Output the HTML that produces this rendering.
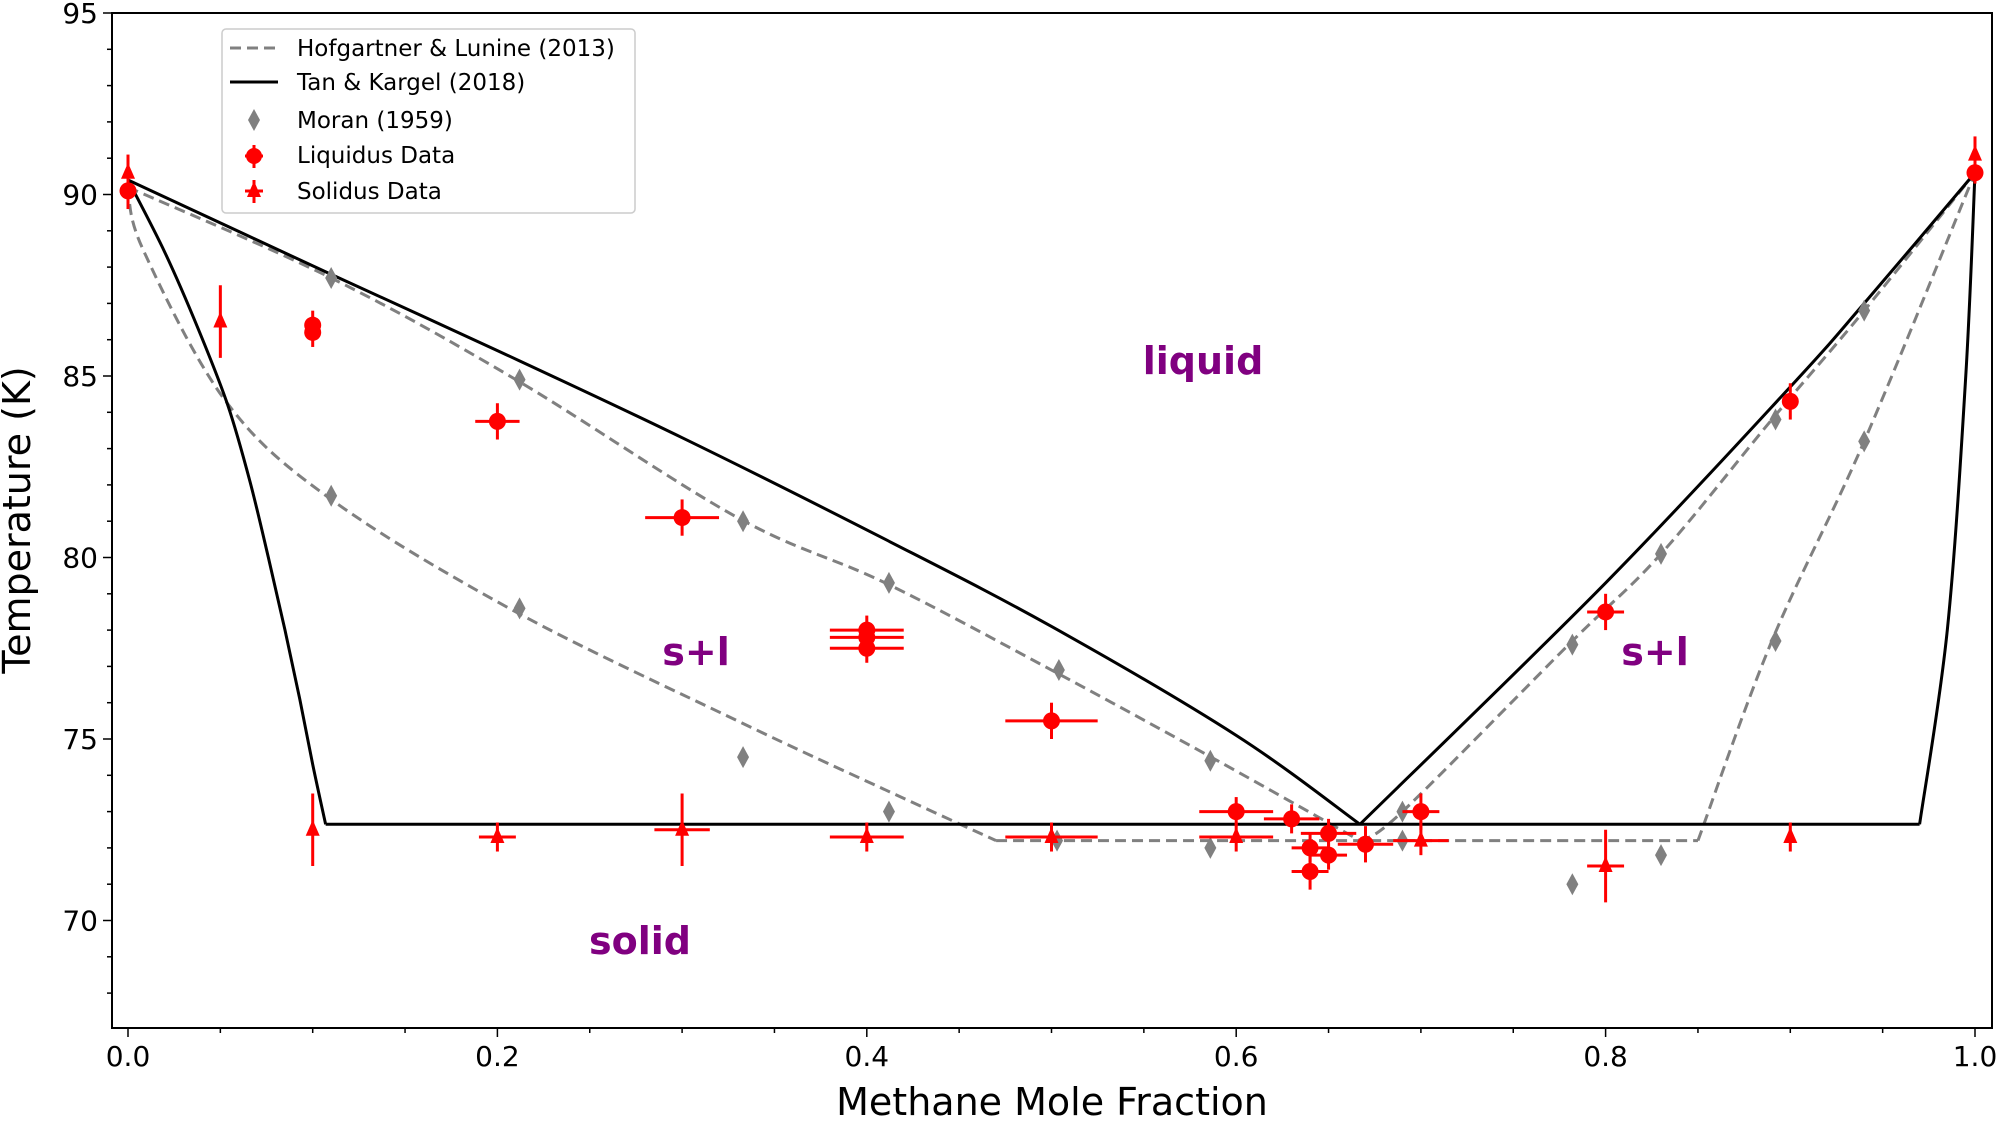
<!DOCTYPE html>
<html><head><meta charset="utf-8"><style>
html,body{margin:0;padding:0;background:#fff;}
svg{display:block;font-family:"DejaVu Sans","Liberation Sans",sans-serif;}
</style></head><body>
<svg id="chart" width="2000" height="1122" viewBox="0 0 2000 1122"></svg>
<script>
// ---- data ----
const tkLiqLeftX=[0,0.11,0.2,0.3,0.41,0.5,0.6,0.667];
const tkLiqLeftT=[90.4,87.8,85.7,83.3,80.5,78.1,75.1,72.65];
const tkSolLeftX=[0,0.02,0.038,0.054,0.066,0.076,0.085,0.093,0.1,0.107];
const tkSolLeftT=[90.4,88.4,86.3,84.2,82.1,80.0,78.0,76.1,74.3,72.65];
const tkLiqRightX=[0.667,0.8,0.9,0.94,1];
const tkLiqRightT=[72.65,79.3,84.7,87,90.6];
const tkSolRightX=[0.97,0.985,0.995,1];
const tkSolRightT=[72.65,78,85,90.6];
const tkEutX=[0.107,0.97];
const tkEutT=[72.65,72.65];
const hlUpperX=[0,0.11,0.21,0.33,0.41,0.5,0.59,0.667];
const hlUpperT=[90.2,87.7,84.9,81.1,79.3,76.9,74.4,72.2];
const hlLowerX=[0,0.008,0.053,0.11,0.21,0.33,0.41,0.47];
const hlLowerT=[90.2,88.5,84.3,81.6,78.5,75.5,73.6,72.2];
const hlFlatX=[0.47,0.85];
const hlFlatT=[72.2,72.2];
const hlRightLiqX=[0.667,0.69,0.78,0.83,0.89,0.94,1];
const hlRightLiqT=[72.2,73,77.6,80.1,83.8,86.8,90.6];
const hlRightSolX=[0.85,0.89,0.94,1];
const hlRightSolT=[72.2,77.7,83.2,90.6];
const moranX=[0.11,0.212,0.333,0.412,0.504,0.586,0.69,0.69,0.586,0.503,0.412,0.333,0.212,0.11,0.782,0.782,0.83,0.83,0.892,0.892,0.94,0.94];
const moranT=[87.7,84.9,81.0,79.3,76.9,74.4,73.0,72.2,72.0,72.2,73.0,74.5,78.6,81.7,71.0,77.6,80.1,71.8,83.8,77.7,86.8,83.2];
const liqX=[0,0.1,0.1,0.2,0.3,0.4,0.4,0.4,0.5,0.6,0.63,0.65,0.64,0.65,0.64,0.67,0.7,0.8,0.9,1];
const liqT=[90.1,86.4,86.2,83.75,81.1,78.0,77.8,77.5,75.5,73.0,72.8,72.4,72.0,71.8,71.35,72.1,73.0,78.5,84.3,90.6];
const liqXerr=[0,0,0,0.012,0.02,0.02,0.02,0.02,0.025,0.02,0.015,0.015,0.01,0.01,0.01,0.015,0.01,0.01,0,0];
const liqTerr=[0.5,0.4,0.4,0.5,0.5,0.4,0.4,0.4,0.5,0.4,0.4,0.4,0.4,0.4,0.5,0.5,0.5,0.5,0.5,0.3];
const solX=[0,0.05,0.1,0.2,0.3,0.4,0.5,0.6,0.7,0.8,0.9,1];
const solT=[90.6,86.5,72.5,72.3,72.5,72.3,72.3,72.3,72.2,71.5,72.3,91.1];
const solXerr=[0,0,0,0.01,0.015,0.02,0.025,0.02,0.015,0.01,0,0];
const solTerr=[0.5,1,1,0.4,1,0.4,0.4,0.4,0.4,1,0.4,0.5];
const xTicks=[0,0.2,0.4,0.6,0.8,1.0];
const xTickLabels=["0.0","0.2","0.4","0.6","0.8","1.0"];
const yTicks=[70,75,80,85,90,95];
const yTickLabels=["70","75","80","85","90","95"];
// ---- axes ----
const L=112,R=1992,T=13,B=1028;
const X=v=>128+v*1847;
const Y=t=>13+(95-t)*36.3;
const svg=document.getElementById('chart');
const NS='http://www.w3.org/2000/svg';
function mk(tag,attrs,parent){const e=document.createElementNS(NS,tag);for(const k in attrs)e.setAttribute(k,attrs[k]);(parent||svg).appendChild(e);return e;}
const plot=mk('g',{});


function smoothPath(xs,ts){
  const P=xs.map((v,i)=>[X(v),Y(ts[i])]);
  let d='M'+P[0][0]+','+P[0][1];
  for(let i=0;i<P.length-1;i++){
    const p0=P[Math.max(0,i-1)],p1=P[i],p2=P[i+1],p3=P[Math.min(P.length-1,i+2)];
    const c1=[p1[0]+(p2[0]-p0[0])/6,p1[1]+(p2[1]-p0[1])/6];
    const c2=[p2[0]-(p3[0]-p1[0])/6,p2[1]-(p3[1]-p1[1])/6];
    d+=` C${c1[0]},${c1[1]} ${c2[0]},${c2[1]} ${p2[0]},${p2[1]}`;
  }
  return d;
}
function line(xs,ts,style,name){
  const p=mk('path',Object.assign({d:smoothPath(xs,ts),fill:'none'},style),plot);
  
  
}
const dash={stroke:'#808080','stroke-width':3,'stroke-dasharray':'11,6'};
const solid={stroke:'#000','stroke-width':3};
line(hlUpperX,hlUpperT,dash,'hofgartner-liquidus-left');
line(hlLowerX,hlLowerT,dash,'hofgartner-solidus-left');
line(hlFlatX,hlFlatT,dash,'hofgartner-eutectic-line');
line(hlRightLiqX,hlRightLiqT,dash,'hofgartner-liquidus-right');
line(hlRightSolX,hlRightSolT,dash,'hofgartner-solidus-right');
line(tkLiqLeftX,tkLiqLeftT,solid,'tan-liquidus-left');
line(tkSolLeftX,tkSolLeftT,solid,'tan-solidus-left');
line(tkLiqRightX,tkLiqRightT,solid,'tan-liquidus-right');
line(tkSolRightX,tkSolRightT,solid,'tan-solidus-right');
line(tkEutX,tkEutT,solid,'tan-eutectic-line');
moranX.forEach((v,i)=>{const cx=X(v),cy=Y(moranT[i]);
  const d=mk('polygon',{points:`${cx},${cy-11} ${cx+6},${cy} ${cx},${cy+11} ${cx-6},${cy}`,fill:'#808080'},plot);
  
  
});
function errbars(x,t,xe,te,i){const g=mk('g',{stroke:'#f00','stroke-width':3},plot);
  
  
  if(xe[i]>0)mk('line',{x1:X(x[i]-xe[i]),x2:X(x[i]+xe[i]),y1:Y(t[i]),y2:Y(t[i])},g);
  if(te[i]>0)mk('line',{x1:X(x[i]),x2:X(x[i]),y1:Y(t[i]-te[i]),y2:Y(t[i]+te[i])},g);}
solX.forEach((v,i)=>{errbars(solX,solT,solXerr,solTerr,i);const cx=X(v),cy=Y(solT[i]);
  const m=mk('polygon',{points:`${cx},${cy-10} ${cx+7},${cy+6} ${cx-7},${cy+6}`,fill:'#f00'},plot);
  
  
});
liqX.forEach((v,i)=>{errbars(liqX,liqT,liqXerr,liqTerr,i);
  const c=mk('circle',{cx:X(v),cy:Y(liqT[i]),r:8.5,fill:'#f00'},plot);
  
  
});
// frame
const fr=mk('rect',{x:L,y:T,width:R-L,height:B-T,fill:'none',stroke:'#000','stroke-width':2});


// ticks
for(let i=0;i<=20;i++){const v=i*0.05;const major=i%4===0;mk('line',{x1:X(v),x2:X(v),y1:B,y2:B+(major?9:5),stroke:'#000','stroke-width':1.5});}
xTicks.forEach((v,i)=>{const t=mk('text',{x:X(v),y:B+38,'font-size':28,'text-anchor':'middle',fill:'#000'});t.textContent=xTickLabels[i];
  
  });
for(let k=68;k<=95;k++){const major=k%5===0;mk('line',{x1:L,x2:L-(major?9:5),y1:Y(k),y2:Y(k),stroke:'#000','stroke-width':1.5});}
yTicks.forEach((v,i)=>{const t=mk('text',{x:L-14,y:Y(v)+10,'font-size':28,'text-anchor':'end',fill:'#000'});t.textContent=yTickLabels[i];
  
  });
</script>
<svg width="2000" height="1122" style="position:absolute;left:0;top:0">
<text x="1052" y="1115" font-size="38" text-anchor="middle" font-family="DejaVu Sans,sans-serif">Methane Mole Fraction</text>
<text transform="translate(30,520) rotate(-90)" font-size="38" text-anchor="middle" font-family="DejaVu Sans,sans-serif">Temperature (K)</text>
<g font-family="DejaVu Sans,sans-serif" font-weight="bold" font-size="38" fill="#800080" text-anchor="middle">
<text x="1203" y="374">liquid</text>
<text x="696" y="665">s+l</text>
<text x="1655" y="665">s+l</text>
<text x="640" y="954">solid</text>
</g>
<g font-family="DejaVu Sans,sans-serif" font-size="23">
<rect x="222" y="29" width="413" height="184" rx="4" fill="#fff" fill-opacity="0.85" stroke="#ccc" stroke-width="1.5"/>
<line x1="230" x2="278" y1="48" y2="48" stroke="#808080" stroke-width="3" stroke-dasharray="11,6"/>
<text x="297" y="56">Hofgartner &amp; Lunine (2013)</text>
<line x1="230" x2="278" y1="82" y2="82" stroke="#000" stroke-width="3"/>
<text x="297" y="90">Tan &amp; Kargel (2018)</text>
<polygon points="254,109 260,120 254,131 248,120" fill="#808080"/>
<text x="297" y="128">Moran (1959)</text>
<line x1="254" x2="254" y1="145" y2="168" stroke="#f00" stroke-width="3"/><line x1="245" x2="263" y1="156" y2="156" stroke="#f00" stroke-width="3"/><circle cx="254" cy="156" r="8" fill="#f00"/>
<text x="297" y="163">Liquidus Data</text>
<line x1="254" x2="254" y1="180" y2="203" stroke="#f00" stroke-width="3"/><line x1="245" x2="263" y1="191" y2="191" stroke="#f00" stroke-width="3"/><polygon points="254,181 261,197 247,197" fill="#f00"/>
<text x="297" y="199">Solidus Data</text>
</g>
</svg>
</body></html>
